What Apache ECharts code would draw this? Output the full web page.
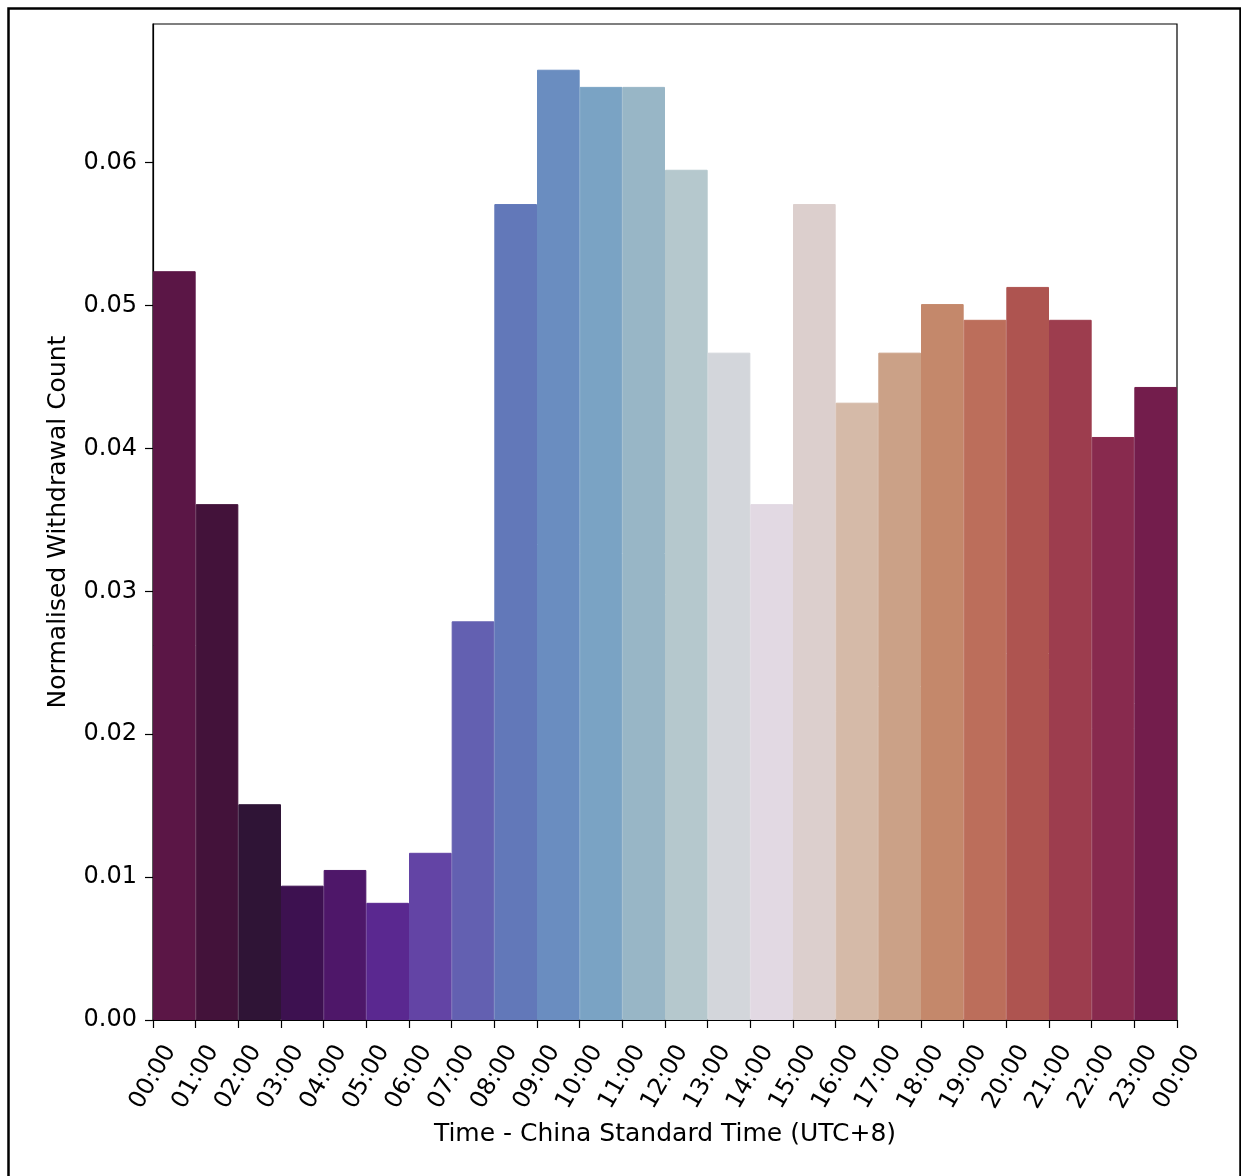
<!DOCTYPE html>
<html>
<head>
<meta charset="utf-8">
<script src="https://cdn.jsdelivr.net/npm/echarts@6/dist/echarts.min.js"></script>
<style>
html,body{margin:0;padding:0;background:#fff;}
#chart{width:1241px;height:1176px;}
</style>
</head>
<body>
<div id="chart"></div>
<script>
const hours = ['00','01','02','03','04','05','06','07','08','09','10','11','12','13','14','15','16','17','18','19','20','21','22','23'];
const values = [0.0524, 0.0361, 0.0151, 0.0094, 0.0105, 0.0082, 0.0117, 0.0279, 0.0571, 0.0665, 0.0653, 0.0653, 0.0595, 0.0467, 0.0361, 0.0571, 0.0432, 0.0467, 0.0501, 0.0490, 0.0513, 0.0490, 0.0408, 0.0443];
const tickLabels = ['00:00','01:00','02:00','03:00','04:00','05:00','06:00','07:00','08:00','09:00','10:00','11:00','12:00','13:00','14:00','15:00','16:00','17:00','18:00','19:00','20:00','21:00','22:00','23:00','00:00'];
const colors = ['#5b1646','#43123a','#2f1436','#3d1150','#4e1769','#5a2890','#6344a5','#6360b1','#6278b9','#6a8dc0','#7aa3c4','#98b6c6','#b5c8cd','#d3d6db','#e2d9e3','#dccfcd','#d5baa8','#cba187','#c4886b','#bc6e5b','#ae5450','#9d3d4e','#882a4e','#731d4c'];
const yTicks = [0, 0.01, 0.02, 0.03, 0.04, 0.05, 0.06];
const yMax = 0.0697;

const font = 'DejaVu Sans';
const chart = echarts.init(document.getElementById('chart'), null, {renderer: 'canvas'});
chart.setOption({
  animation: false,
  backgroundColor: '#ffffff',
  textStyle: {fontFamily: font},
  graphic: [{
    type: 'rect', z: 100, silent: true,
    shape: {x: 8.5, y: 8.5, width: 1232, height: 1220},
    style: {fill: 'none', stroke: '#000', lineWidth: 2.5}
  }],
  grid: {left: 153, right: 64, top: 24, bottom: 156, show: true, borderColor: '#000', borderWidth: 1.2, backgroundColor: 'transparent'},
  xAxis: [{
    type: 'category', data: hours, show: false, boundaryGap: true
  }, {
    type: 'value', min: 0, max: 24, interval: 1, position: 'bottom',
    name: 'Time - China Standard Time (UTC+8)', nameLocation: 'middle', nameGap: 102,
    nameTextStyle: {fontFamily: font, fontSize: 25, color: '#000'},
    axisLine: {show: true, onZero: false, lineStyle: {color: '#000', width: 1.2}},
    axisTick: {show: true, length: 8, lineStyle: {color: '#000', width: 1.2}},
    axisLabel: {rotate: 60, align: 'center', verticalAlign: 'middle', fontFamily: font, fontSize: 24, color: '#000', margin: 57,
      showMinLabel: true, showMaxLabel: true, hideOverlap: false,
      formatter: v => tickLabels[Math.round(v)]},
    splitLine: {show: false}
  }],
  yAxis: {
    type: 'value', min: 0, max: yMax, interval: 0.01,
    name: 'Normalised Withdrawal Count', nameLocation: 'middle', nameGap: 82,
    nameTextStyle: {fontFamily: font, fontSize: 25, color: '#000'},
    axisLine: {show: true, lineStyle: {color: '#000', width: 1.2}},
    axisTick: {show: true, length: 8, lineStyle: {color: '#000', width: 1.2}},
    axisLabel: {fontFamily: font, fontSize: 24, color: '#000', margin: 16, showMaxLabel: false,
      formatter: v => (yTicks.some(t => Math.abs(t - v) < 1e-9) ? v.toFixed(2) : '')},
    splitLine: {show: false}
  },
  series: [{
    type: 'bar', xAxisIndex: 0, barCategoryGap: '0%', barWidth: '100%',
    data: values.map((v, i) => ({value: v, itemStyle: {color: colors[i], borderColor: colors[i], borderWidth: 1}}))
  }]
});
</script>
</body>
</html>
